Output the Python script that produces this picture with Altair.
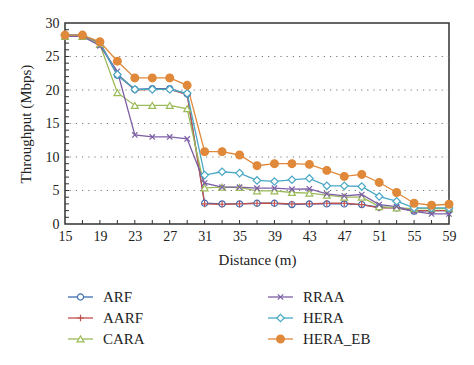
import altair as alt
import pandas as pd

distance = [15, 17, 19, 21, 23, 25, 27, 29, 31, 33, 35, 37, 39, 41, 43, 45, 47, 49, 51, 53, 55, 57, 59]
arf = [28.2, 28.2, 27.0, 22.2, 20.1, 20.2, 20.2, 19.4, 3.1, 3.0, 3.0, 3.1, 3.1, 2.9, 3.0, 3.0, 3.0, 2.9, 2.5, 2.4, 1.9, 2.0, 2.0]
aarf = [28.2, 28.2, 27.0, 22.4, 20.0, 20.1, 20.1, 19.3, 3.0, 2.95, 3.0, 3.1, 3.1, 3.0, 3.0, 3.1, 3.1, 2.9, 2.4, 2.4, 2.0, 2.0, 2.0]
cara = [28.0, 28.0, 26.8, 19.6, 17.7, 17.7, 17.7, 17.2, 5.4, 5.5, 5.45, 4.95, 4.95, 4.7, 4.6, 4.3, 4.0, 4.0, 2.6, 2.4, 2.3, 2.3, 2.3]
rraa = [28.0, 28.0, 26.6, 22.8, 13.3, 13.0, 13.0, 12.7, 6.1, 5.5, 5.5, 5.35, 5.35, 5.2, 5.25, 4.5, 4.2, 4.4, 2.9, 2.6, 1.9, 1.5, 1.5]
hera = [28.2, 28.2, 27.1, 22.3, 20.1, 20.1, 20.1, 19.5, 7.3, 7.8, 7.6, 6.5, 6.35, 6.6, 6.8, 5.7, 5.7, 5.6, 4.1, 3.4, 2.4, 2.4, 2.4]
hera_eb = [28.2, 28.2, 27.2, 24.3, 21.8, 21.8, 21.8, 20.7, 10.8, 10.8, 10.3, 8.7, 9.0, 9.0, 8.9, 8.0, 7.1, 7.4, 6.2, 4.7, 3.1, 2.8, 2.95]

series_names = ["ARF", "AARF", "CARA", "RRAA", "HERA", "HERA_EB"]
legend_labels = ["ARF", "AARF", "CARA", "RRAA", "HERA", "HERA_EB"]
series_values = [arf, aarf, cara, rraa, hera, hera_eb]
colors = ["#3f6db3", "#c0504d", "#9bbb59", "#7d5fa5", "#4aa8c4", "#e0893a"]
fills = ["white", "white", "white", "white", "white", "#e0893a"]
PLUS = "M-1,0H1M0,-1V1"
CROSS = "M-0.75,-0.75L0.75,0.75M0.75,-0.75L-0.75,0.75"
shapes = ["circle", PLUS, "triangle-up", CROSS, "diamond", "circle"]

x_ticks_labels = [15, 19, 23, 27, 31, 35, 39, 43, 47, 51, 55, 59]
y_ticks_labels = [0, 5, 10, 15, 20, 25, 30]
grid_values = [5, 10, 15, 20, 25]
x_minor = list(range(17, 59, 2))
y_minor = list(range(1, 30))

W, H = 384, 201
FONT = "Liberation Serif, DejaVu Serif, serif"

rows = []
for name, vals in zip(series_names, series_values):
    for d, v in zip(distance, vals):
        rows.append({"Distance": d, "Throughput": v, "Series": name})
df = pd.DataFrame(rows)

xs = alt.Scale(domain=[15, 59], nice=False, zero=False)
ys = alt.Scale(domain=[0, 30], nice=False)
cscale = alt.Scale(domain=series_names, range=colors)
fscale = alt.Scale(domain=series_names, range=fills)
sscale = alt.Scale(domain=series_names, range=shapes)
sizes = [38, 60, 45, 45, 50, 40]
szscale = alt.Scale(domain=series_names, range=sizes)

xaxis = alt.Axis(values=x_ticks_labels, ticks=False, domain=False, grid=False,
                 labelOverlap=False, labelFlush=False,
                 labelPadding=5, title="Distance (m)", titlePadding=9)
yaxis = alt.Axis(values=y_ticks_labels, ticks=False, domain=False, grid=False,
                 labelOverlap=False, labelFlush=False,
                 labelPadding=6, title="Throughput (Mbps)", titlePadding=12)

grid = alt.Chart(pd.DataFrame({"g": grid_values})).mark_rule(
    color="#777", strokeDash=[1.2, 5], strokeWidth=1.2
).encode(y=alt.Y("g:Q", scale=ys, axis=yaxis))

xt = alt.Chart(pd.DataFrame({"xt": x_minor})).mark_rule(color="#333", strokeWidth=1).encode(
    x=alt.X("xt:Q", scale=xs, axis=xaxis), y=alt.value(H), y2=alt.value(H - 4))
yt = alt.Chart(pd.DataFrame({"yt": y_minor})).mark_rule(color="#333", strokeWidth=1).encode(
    y=alt.Y("yt:Q", scale=ys, axis=yaxis), x=alt.value(0), x2=alt.value(4))

base = alt.Chart(df)
lines = base.mark_line(strokeWidth=1.3).encode(
    x=alt.X("Distance:Q", scale=xs, axis=xaxis),
    y=alt.Y("Throughput:Q", scale=ys, axis=yaxis),
    color=alt.Color("Series:N", scale=cscale, legend=None),
    detail="Series:N",
)
pts = base.mark_point(filled=False, strokeWidth=1.2, opacity=1).encode(
    x=alt.X("Distance:Q", scale=xs, axis=xaxis),
    y=alt.Y("Throughput:Q", scale=ys, axis=yaxis),
    stroke=alt.Color("Series:N", scale=cscale, legend=None),
    fill=alt.Fill("Series:N", scale=fscale, legend=None),
    shape=alt.Shape("Series:N", scale=sscale, legend=None),
    size=alt.Size("Series:N", scale=szscale, legend=None),
)

main = alt.layer(grid, xt, yt, lines, pts)

# Legend built from the series names (two columns of three)
leg = pd.DataFrame({"Series": series_names, "label": legend_labels,
                    "col": [0, 0, 0, 1, 1, 1], "row": [0, 1, 2, 0, 1, 2]})
lxs = alt.Scale(domain=[0, W], range=[0, W])
lys = alt.Scale(domain=[0, 2], range=[H + 73, H + 115])
lbase = alt.Chart(leg).transform_calculate(
    x0="datum.col * 200 + 3", x1="datum.col * 200 + 28",
    xm="datum.col * 200 + 15.5", xt="datum.col * 200 + 38")
lrule = lbase.mark_rule(strokeWidth=1.3).encode(
    x=alt.X("x0:Q", scale=lxs, axis=None), x2="x1:Q",
    y=alt.Y("row:Q", scale=lys, axis=None),
    color=alt.Color("Series:N", scale=cscale, legend=None))
lpt = lbase.mark_point(filled=False, strokeWidth=1.2, opacity=1).encode(
    x=alt.X("xm:Q", scale=lxs, axis=None),
    y=alt.Y("row:Q", scale=lys, axis=None),
    stroke=alt.Color("Series:N", scale=cscale, legend=None),
    fill=alt.Fill("Series:N", scale=fscale, legend=None),
    shape=alt.Shape("Series:N", scale=sscale, legend=None),
    size=alt.Size("Series:N", scale=szscale, legend=None))
ltext = lbase.mark_text(align="left", baseline="middle", font=FONT, fontSize=15, color="#222").encode(
    x=alt.X("xt:Q", scale=lxs, axis=None),
    y=alt.Y("row:Q", scale=lys, axis=None),
    text="label:N")
legend = alt.layer(lrule, lpt, ltext)

chart = alt.layer(main, legend).resolve_scale(x="independent", y="independent").properties(
    width=W, height=H,
    autosize=alt.AutoSizeParams(type="none"),
    padding={"left": 57, "top": 15, "right": 17, "bottom": 133},
).configure_view(stroke="#333", strokeWidth=1.5).configure_axis(
    labelFont=FONT, titleFont=FONT, labelFontSize=14, titleFontSize=15,
    titleFontWeight="normal", labelColor="#222", titleColor="#222")

chart.save("out.html", embed_options={"renderer": "svg", "actions": False})
